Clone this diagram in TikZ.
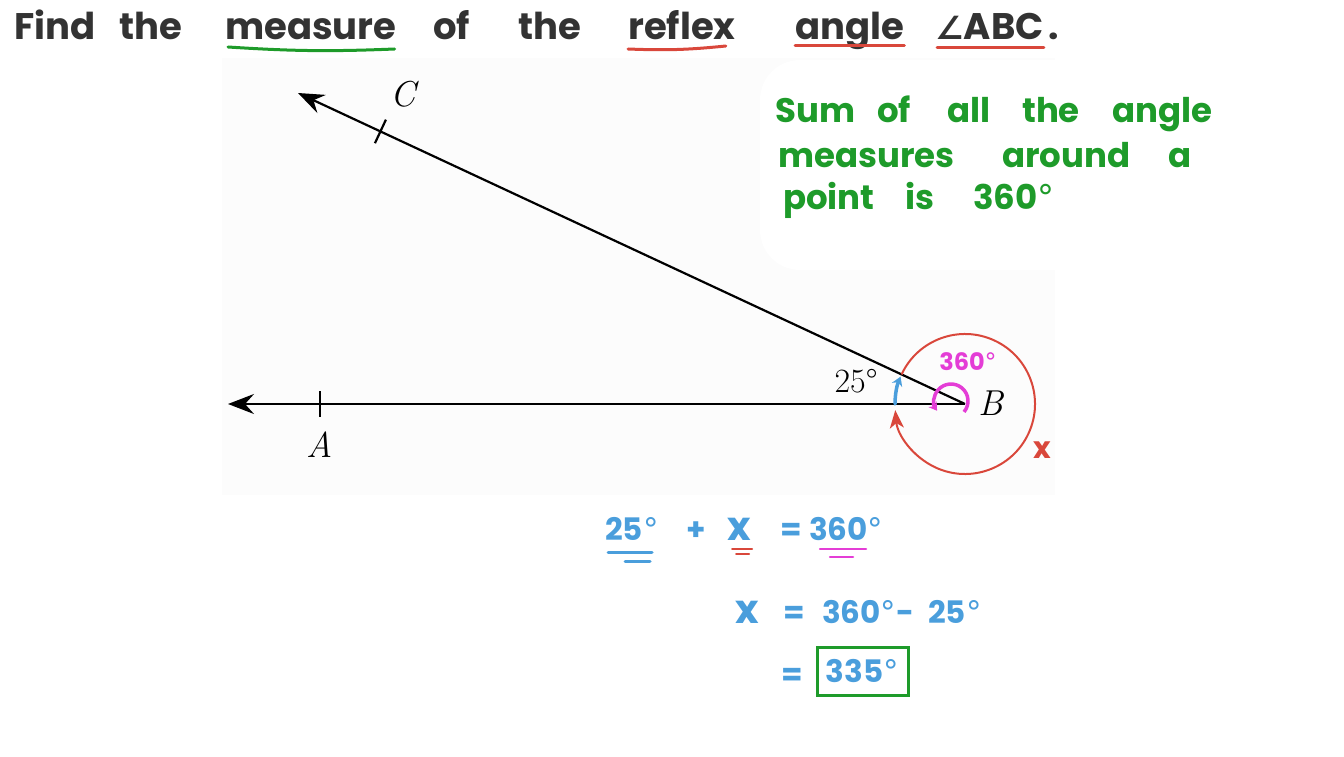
\documentclass[tikz,border=0pt]{standalone}
\usepackage{fontspec}
\usepackage{xcolor}
\usepackage{tikz}
\usetikzlibrary{arrows.meta,calc}
\newfontfamily\mano{Poppins}
\newfontfamily\simbolo{DejaVu Sans}
\newcommand{\grado}{{\simbolo\mdseries °}}
\definecolor{tinta}{HTML}{333333}
\definecolor{verde}{HTML}{1E9B2A}
\definecolor{azul}{HTML}{4A9EDC}
\definecolor{rojo}{HTML}{D9473B}
\definecolor{rosa}{HTML}{E43DD6}

\begin{document}
\begin{tikzpicture}[x=1pt, y=1pt,
    palabra/.style={anchor=base west, inner sep=0pt, text=tinta, font=\mano\bfseries\fontsize{37}{40}\selectfont},
    nota/.style={anchor=base west, inner sep=0pt, text=verde, font=\mano\bfseries\fontsize{34}{40}\selectfont},
    calculo/.style={anchor=base west, inner sep=0pt, text=azul, font=\mano\bfseries\fontsize{31}{36}\selectfont},
    incognita/.style={calculo, font=\mano\bfseries\fontsize{40}{44}\selectfont},
    etiqueta/.style={inner sep=0pt, font=\fontsize{36}{40}\selectfont\itshape},
    rayo/.style={line width=2.2pt, -{Stealth[length=26pt, width=20pt, inset=9pt]}},
    marca/.style={line width=2.2pt},
    subrayado/.style={line width=3pt, line cap=round}]

    \useasboundingbox (0,0) rectangle (1344,756);
    % Fondo de la figura
    \fill[black!1] (222,261) rectangle (1055,698);
    \fill[white, rounded corners=40pt] (760,486) rectangle (1110,696);

    % Enunciado
    \foreach \x/\w/\n in {14/Find/find, 119/the/theA, 225/measure/measure, 433/of/of,
        518/the/theB, 628/reflex/reflex, 795/angle/angle} {
        \node[palabra] (\n) at (\x,716) {\w};
    }
    \node[palabra] (abc) at (935,716) {{\simbolo\fontsize{32}{40}\selectfont ∠}ABC};
    \node[palabra, anchor=base west] (punto) at ($(abc.base east)+(4,0)$) {.};
    % Subrayados del enunciado
    \draw[subrayado, verde] ($(measure.base west)+(3,-7)$) to[bend right=3] ($(measure.base east)+(-2,-9)$);
    \draw[subrayado, rojo] ($(reflex.base west)+(0,-9)$) to[bend right=4] ($(reflex.base east)+(-10,-6)$);
    \draw[subrayado, rojo] ($(angle.base west)+(0,-6)$) -- ($(angle.base east)+(0,-6)$);
    \draw[subrayado, rojo] ($(abc.base west)+(2,-8)$) -- ($(abc.base east)+(0,-8)$);

    % Nota en verde
    \foreach \x/\w in {775/Sum, 877/of, 947/all, 1022/the, 1112/angle} {
        \node[nota] (uno\x) at (\x,633) {\w};
    }
    \foreach \x/\w in {778/measures, 1002/around, 1168/a} {
        \node[nota] (dos\x) at (\x,588) {\w};
    }
    \foreach \x/\w in {783/point, 905/is, 973/360\grado} {
        \node[nota] (tres\x) at (\x,546) {\w};
    }

    % Rayos del angulo
    \coordinate (B) at (965,352);
    \coordinate (finA) at (228,352);
    \coordinate (finC) at (298,663);
    \draw[rayo] (B) -- (finA);
    \draw[rayo] (B) -- (finC);
    % Marcas sobre los rayos
    \coordinate (mA) at (320,352);
    \draw[marca] ($(mA)+(0,-13)$) -- ($(mA)+(0,13)$);
    \coordinate (mC) at ($(B)!645pt!(finC)$);
    \draw[marca] ($(mC)!13pt!90:(B)$) -- ($(mC)!13pt!-90:(B)$);
    % Letras
    \node[etiqueta] (A) at (320,311) {A};
    \node[etiqueta] (C) at (403,662) {C};
    \node[etiqueta] (Bl) at (991,353) {B};
    \node[inner sep=0pt, font=\fontsize{34}{40}\selectfont] (ang) at (856,375) {25°};

    % Angulo reflejo en rojo
    \draw[rojo, line width=2pt, -{Stealth[length=18pt, width=14pt, inset=5pt]}]
        ($(B)+(155:70)$) arc[start angle=155, end angle=-175, radius=70];
    \node[inner sep=0pt, text=rojo, font=\mano\bfseries\fontsize{30}{34}\selectfont] (x) at (1042,306) {x};
    % Angulo agudo en azul
    \draw[azul, line width=3.5pt, line cap=round, -{Stealth[length=9pt, width=11pt]}]
        ($(B)+(180:70)$) arc[start angle=180, end angle=157, radius=70];
    % Vuelta completa en rosa
    \coordinate (giro) at (951,355);
    \draw[rosa, line width=3.5pt, -{Stealth[length=8pt, width=10pt]}]
        ($(giro)+(-40:17)$) arc[start angle=-40, end angle=215, radius=17];
    \node[inner sep=0pt, text=rosa, font=\mano\bfseries\fontsize{24}{28}\selectfont] (vuelta) at (968,394) {360\grado};

    % Ecuacion
    \node[calculo] (e25) at (605,216) {25\grado};
    \node[calculo] (mas) at (686,216) {+};
    \node[incognita] (ex) at (727,216) {x};
    \node[calculo] (igual) at (780,216) {=};
    \node[calculo] (e360) at (809,216) {360\grado};
    \draw[subrayado, azul] (608,204) -- (652,204);
    \draw[subrayado, azul] (625,195) -- (650,195);
    \draw[subrayado, rojo, line width=2pt] (732,207) -- (752,207);
    \draw[subrayado, rojo, line width=2pt] (736,202) -- (749,202);
    \draw[subrayado, rosa, line width=2.5pt] (820,207) -- (866,207);
    \draw[subrayado, rosa, line width=2.5pt] (830,199) -- (853,199);
    % Despeje
    \node[incognita] (exB) at (735,133) {x};
    \node[calculo] (igualB) at (783,133) {=};
    \node[calculo] (resta) at (822,133) {360\grado-};
    \node[calculo] (e25B) at (928,133) {25\grado};
    % Resultado
    \node[calculo] (igualC) at (781,71) {=};
    \node[draw=verde, line width=3pt, minimum width=91pt, minimum height=48pt, inner sep=0pt,
        text=azul, font=\mano\bfseries\fontsize{31}{36}\selectfont] (res) at (862.5,85) {335\grado};
\end{tikzpicture}
\end{document}
